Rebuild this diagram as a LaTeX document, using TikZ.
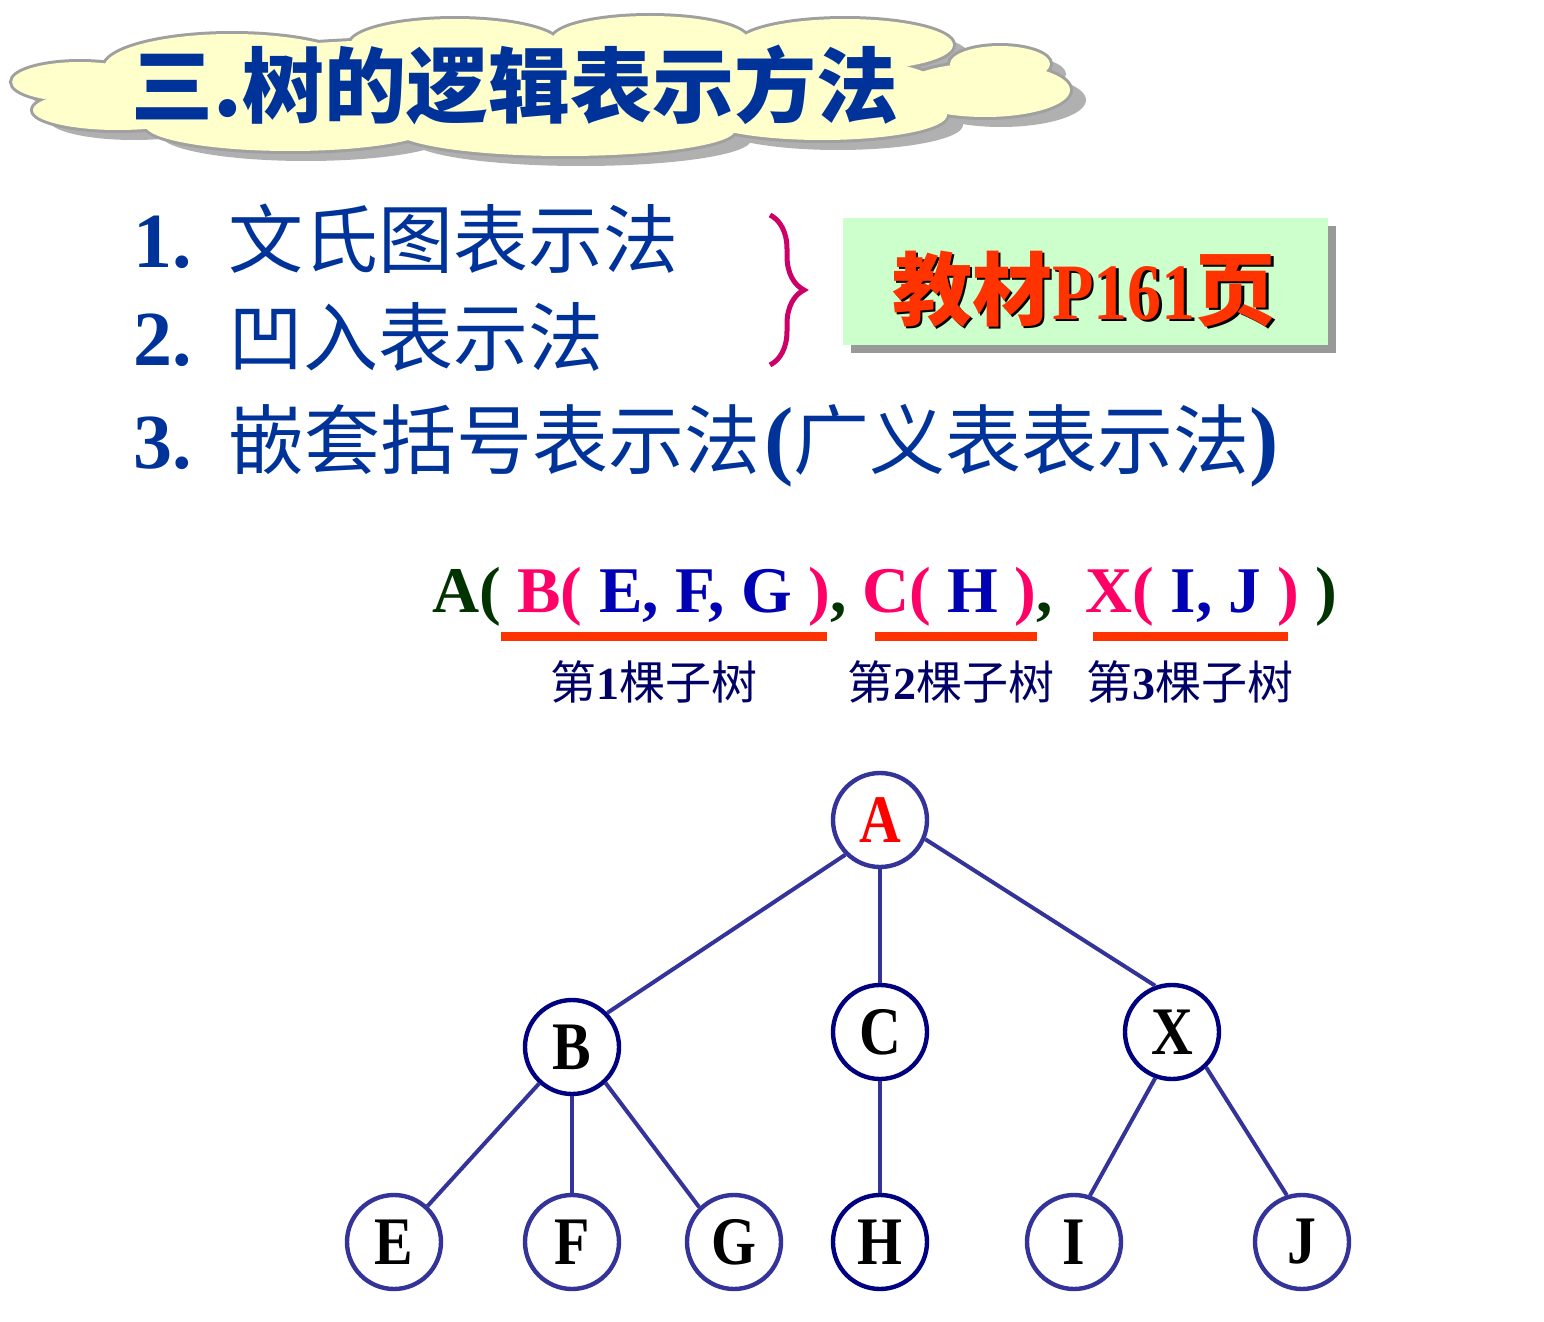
\documentclass[tikz,border=0pt]{standalone}
\usepackage{fontspec}
\setmainfont{Liberation Serif}
\newfontfamily\cjk{Noto Sans CJK SC}
\newfontfamily\tallserif{Liberation Serif}[FakeStretch=0.85]
\usepackage{xcolor}
\usetikzlibrary{decorations.pathreplacing}

\definecolor{titleblue}{HTML}{003399}
\definecolor{cloudfill}{HTML}{FFFFCC}
\definecolor{cloudline}{HTML}{A0A0A0}
\definecolor{cloudshade}{HTML}{B0B0B0}
\definecolor{bracepink}{HTML}{CC0066}
\definecolor{boxgreen}{HTML}{CCFFCC}
\definecolor{boxshade}{HTML}{999999}
\definecolor{refred}{HTML}{FF3300}
\definecolor{exgreen}{HTML}{003300}
\definecolor{expink}{HTML}{FF0066}
\definecolor{exblue}{HTML}{0000B4}
\definecolor{subnavy}{HTML}{000066}
\definecolor{liteblue}{HTML}{333399}
\definecolor{darknavy}{HTML}{000080}

\begin{document}
\begin{tikzpicture}[x=0.5pt,y=-0.5pt,
    lite/.style={circle,draw=liteblue,line width=2.2pt,minimum size=47pt,inner sep=0pt,fill=white,
      font={\tallserif\bfseries\fontsize{34}{34}\selectfont}},
    dark/.style={lite,draw=darknavy},
    edge/.style={liteblue,line width=2pt},
    item/.style={anchor=base west,inner sep=0pt,text=titleblue,font={\bfseries\fontsize{39}{44}\selectfont}},
    sublabel/.style={inner sep=0pt,text=subnavy,font={\fontsize{23}{26}\selectfont}}]
    \useasboundingbox (0,0) rectangle (1544,1322);
    \def\lobes{80/82/68/20, 118/110/85/20, 232/68/128/34, 455/45/105/26, 650/40/98/24,
      845/45/108/26, 1000/64/50/18, 985/90/85/27, 822/115/125/25, 565/130/170/26,
      290/125/145/26, 520/85/420/48}

    % Title cloud: shadow, outline, then fill
    \foreach \cx/\cy/\rx/\ry in \lobes {\fill[cloudshade] (\cx+16,\cy+10) ellipse [x radius=\rx, y radius=\ry];}
    \foreach \cx/\cy/\rx/\ry in \lobes {\draw[cloudline,line width=3pt] (\cx,\cy) ellipse [x radius=\rx, y radius=\ry];}
    \foreach \cx/\cy/\rx/\ry in \lobes {\fill[cloudfill] (\cx,\cy) ellipse [x radius=\rx, y radius=\ry];}
    \node[text=titleblue,font={\cjk\bfseries\fontsize{41}{41}\selectfont}] (title) at (515,85) {三.树的逻辑表示方法};

    % The three methods
    \foreach \k/\y/\t in {1/268/文氏图表示法, 2/365/凹入表示法}
      \node[item] (item\k) at (133,\y) {\makebox[47.5pt][l]{\k.}{\cjk\mdseries\fontsize{37.5}{44}\selectfont\t}};
    \node[item] (item3) at (133,468) {\makebox[47.5pt][l]{3.}{\cjk\mdseries\fontsize{38}{44}\selectfont 嵌套括号表示法}%
      \kern2pt{\fontsize{44}{44}\selectfont(}{\cjk\mdseries\fontsize{38}{44}\selectfont 广义表表示法}{\fontsize{44}{44}\selectfont)}};
    \coordinate (bt) at (770,215);
    \coordinate (bb) at (770,365);
    \draw[bracepink,line width=2.5pt,decorate,decoration={brace,amplitude=17pt}] (bt) -- (bb);

    % Reference box with shadow
    \fill[boxshade] (851,226) rectangle (1336,353);
    \node[fill=boxgreen,minimum width=242.5pt,minimum height=63.5pt,inner sep=0pt] (ref) at (1085.5,281.5) {};
    \node[text=black,font={\fontsize{40}{40}\selectfont\bfseries}] (refsh) at (1086.5,291.5)
      {{\cjk 教材}{\tallserif P161}{\cjk 页}};
    \node[text=refred,font={\fontsize{40}{40}\selectfont\bfseries}] (reftx) at (1084,289)
      {{\cjk 教材}{\tallserif P161}{\cjk 页}};

    % Nested parentheses form
    \node[anchor=base west,inner sep=0pt,font={\bfseries\fontsize{32.6}{33}\selectfont}] (expr) at (432,612)
      {\textcolor{exgreen}{A(}\ \textcolor{expink}{B(}\ \textcolor{exblue}{E,\ F,\ G}\ \textcolor{expink}{)}\textcolor{exgreen}{,}\
       \textcolor{expink}{C(}\ \textcolor{exblue}{H}\ \textcolor{expink}{)}\textcolor{exgreen}{,}\ \
       \textcolor{expink}{X(}\ \textcolor{exblue}{I,\ J}\ \textcolor{expink}{)}\ \textcolor{exgreen}{)}};
    \foreach \a/\b in {501/827, 875/1037, 1093/1288}
      \fill[refred] (\a,632) rectangle (\b,641);
    \foreach \k/\x in {1/654, 2/951, 3/1190}
      \node[sublabel] (sub\k) at (\x,682) {{\cjk 第}\textbf{\k}{\cjk 棵子树}};

    % Tree
    \node[lite] (A) at (880,820) {\textcolor{red}{A}};
    \foreach \n/\x/\y/\s in {B/572/1047/dark, C/880/1032/dark, X/1172/1032/dark, E/394/1242/lite,
      F/572/1242/lite, G/734/1242/lite, H/880/1242/dark, I/1074/1242/lite, J/1302/1242/lite}
      \node[\s] (\n) at (\x,\y) {\n};
    \foreach \p/\a/\c/\b in {A/225/B/44, A/270/C/90, A/337/X/110, B/228/E/47, B/270/F/90,
      B/313/G/135, C/270/H/90, X/250/I/71, X/314/J/108}
      \draw[edge] (\p.\a) -- (\c.\b);
  \end{tikzpicture}
\end{document}
